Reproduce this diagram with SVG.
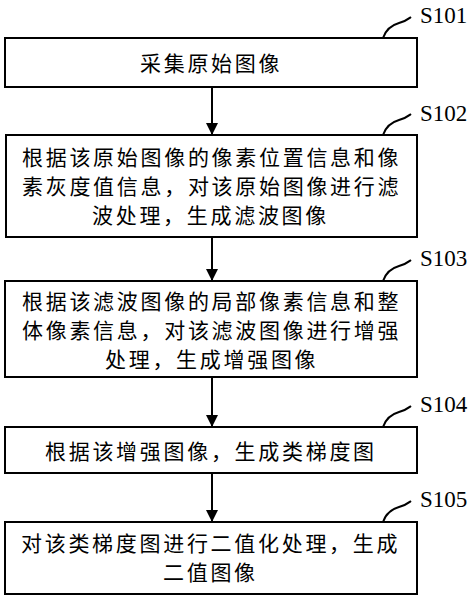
<svg xmlns="http://www.w3.org/2000/svg" width="474" height="602" viewBox="0 0 474 602">
  <style>
    .box { fill: #fff; stroke: #000; stroke-width: 2; }
    .txt { font-family: "Noto Sans CJK SC", "Noto Sans", sans-serif; font-size: 21px; letter-spacing: 2.7px; fill: #000; }
    .lbl { font-family: "Liberation Serif", "Times New Roman", serif; font-size: 23px; fill: #000; }
    .lead { fill: none; stroke: #000; stroke-width: 2; }
    .conn { stroke: #000; stroke-width: 2; fill: none; marker-end: url(#arrow); }
  </style>
  <defs>
    <marker id="arrow" markerWidth="12" markerHeight="12" refX="12" refY="6" orient="auto" markerUnits="userSpaceOnUse">
      <path d="M0,0 L12,6 L0,12 Z" fill="#000"/>
    </marker>
  </defs>
  <rect width="474" height="602" fill="#fff"/>

  <g id="connectors">
    <line class="conn" x1="212" y1="87" x2="212" y2="135"/>
    <line class="conn" x1="212" y1="237" x2="212" y2="281"/>
    <line class="conn" x1="212" y1="377" x2="212" y2="427"/>
    <line class="conn" x1="212" y1="473" x2="212" y2="522"/>
  </g>

  <g id="S101">
    <rect class="box" x="5" y="38" width="412" height="49"/>
    <text class="txt" x="140" y="71">采集原始图像</text>
    <path class="lead" d="M383,38 C386,29 392,25 399,23 S407,20 411,17"/>
    <text class="lbl" x="420" y="23">S101</text>
  </g>

  <g id="S102">
    <rect class="box" x="6" y="135" width="411" height="102"/>
    <text class="txt" x="22" y="165">根据该原始图像的像素位置信息和像</text>
    <text class="txt" x="22" y="194">素灰度值信息，对该原始图像进行滤</text>
    <text class="txt" x="92" y="223">波处理，生成滤波图像</text>
    <path class="lead" d="M383,135 C386,126 392,122 399,120 S407,117 411,114"/>
    <text class="lbl" x="420" y="121">S102</text>
  </g>

  <g id="S103">
    <rect class="box" x="5" y="281" width="412" height="96"/>
    <text class="txt" x="22" y="309">根据该滤波图像的局部像素信息和整</text>
    <text class="txt" x="22" y="338">体像素信息，对该滤波图像进行增强</text>
    <text class="txt" x="105" y="367">处理，生成增强图像</text>
    <path class="lead" d="M383,281 C386,272 392,268 399,266 S407,263 411,260"/>
    <text class="lbl" x="420" y="266">S103</text>
  </g>

  <g id="S104">
    <rect class="box" x="5" y="427" width="412" height="46"/>
    <text class="txt" x="45" y="459">根据该增强图像，生成类梯度图</text>
    <path class="lead" d="M383,427 C386,418 392,414 399,412 S407,409 411,406"/>
    <text class="lbl" x="420" y="412">S104</text>
  </g>

  <g id="S105">
    <rect class="box" x="5" y="522" width="412" height="72"/>
    <text class="txt" x="21" y="551">对该类梯度图进行二值化处理，生成</text>
    <text class="txt" x="163" y="580">二值图像</text>
    <path class="lead" d="M383,522 C386,513 392,509 399,507 S407,504 411,501"/>
    <text class="lbl" x="420" y="507">S105</text>
  </g>
</svg>
